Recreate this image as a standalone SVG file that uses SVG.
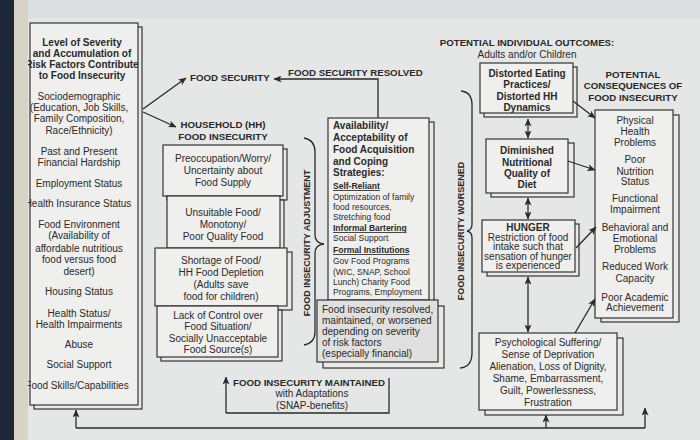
<svg xmlns="http://www.w3.org/2000/svg" width="700" height="440" viewBox="0 0 700 440">
<defs>
<marker id="ah" viewBox="0 0 8 7" markerWidth="8" markerHeight="7" refX="7.5" refY="3.5" orient="auto-start-reverse" markerUnits="userSpaceOnUse">
<path d="M0,0 L8,3.5 L0,7 L2,3.5 z" fill="#2a2a2a"/>
</marker>
<style>
text{font-family:"Liberation Sans","DejaVu Sans",Arial,sans-serif;fill:#2a2a2a}
.t{font-size:10px;text-anchor:middle}
.tl{font-size:10px}
.b{font-weight:bold}
.h{font-size:9.7px;font-weight:bold}
.s{font-size:8.5px}
.u{text-decoration:underline;font-weight:bold;font-size:8.5px}
.box{fill:#efefed;stroke:#333;stroke-width:1.2}
.shd{fill:#e9eae8;stroke:#333;stroke-width:1.2}
.ln{fill:none;stroke:#2a2a2a;stroke-width:1.3}
.ar{fill:none;stroke:#2a2a2a;stroke-width:1.3;marker-end:url(#ah)}
.ar2{fill:none;stroke:#2a2a2a;stroke-width:1.3;marker-end:url(#ah);marker-start:url(#ah)}
</style>
</defs>
<rect x="0" y="0" width="700" height="440" fill="#e5e7e7"/>
<rect x="0" y="0" width="700" height="18" fill="#dcdfdf"/>

<g id="risk-factors">
<rect class="shd" x="34" y="27" width="108" height="382"/>
<rect class="box" x="30" y="23" width="108" height="382"/>
<text class="t b" font-size="9.4px" x="82" y="45.5">Level of Severity</text>
<text class="t b" font-size="9.4px" x="82" y="56.5">and Accumulation of</text>
<text class="t b" font-size="9.4px" x="82" y="67.5">Risk Factors Contribute</text>
<text class="t b" font-size="9.4px" x="82" y="78.5">to Food Insecurity</text>
<text class="t" x="79" y="99.5">Sociodemographic</text>
<text class="t" x="79" y="110.5">(Education, Job Skills,</text>
<text class="t" x="79" y="121.5">Family Composition,</text>
<text class="t" x="79" y="133.5">Race/Ethnicity)</text>
<text class="t" x="79" y="154.5">Past and Present</text>
<text class="t" x="79" y="165.5">Financial Hardship</text>
<text class="t" x="79" y="186.5">Employment Status</text>
<text class="t" x="78" y="206.5">Health Insurance Status</text>
<text class="t" x="79" y="227.5">Food Environment</text>
<text class="t" x="79" y="238.5">(Availability of</text>
<text class="t" x="79" y="251.5">affordable nutritious</text>
<text class="t" x="79" y="262.5">food versus food</text>
<text class="t" x="79" y="274.5">desert)</text>
<text class="t" x="79" y="294.5">Housing Status</text>
<text class="t" x="79" y="316.5">Health Status/</text>
<text class="t" x="79" y="327.5">Health Impairments</text>
<text class="t" x="79" y="347.5">Abuse</text>
<text class="t" x="79" y="367.5">Social Support</text>
<text class="t" x="77" y="388.5">Food Skills/Capabilities</text>
</g>

<g id="food-security"><text class="h" x="190" y="80.5">FOOD SECURITY</text></g>
<g id="hh-food-insecurity">
<text class="h" x="223" y="127.5" text-anchor="middle">HOUSEHOLD (HH)</text>
<text class="h" x="223" y="139.5" text-anchor="middle">FOOD INSECURITY</text>
</g>

<g id="preoccupation">
<rect class="shd" x="167" y="149" width="120" height="51"/>
<rect class="box" x="163" y="145" width="120" height="51"/>
<text class="t" x="223" y="161.5">Preoccupation/Worry/</text>
<text class="t" x="223" y="173.5">Uncertainty about</text>
<text class="t" x="223" y="186">Food Supply</text>
</g>
<g id="unsuitable">
<rect class="shd" x="171" y="200" width="113" height="51"/>
<rect class="box" x="167" y="196" width="113" height="52"/>
<text class="t" x="223" y="215.5">Unsuitable Food/</text>
<text class="t" x="223" y="227.5">Monotony/</text>
<text class="t" x="223" y="239.5">Poor Quality Food</text>
</g>
<g id="shortage">
<rect class="shd" x="159" y="252" width="133" height="58"/>
<rect class="box" x="155" y="248" width="132" height="58"/>
<text class="t" x="221" y="263.5">Shortage of Food/</text>
<text class="t" x="221" y="275.5">HH Food Depletion</text>
<text class="t" x="221" y="287.5">(Adults save</text>
<text class="t" x="221" y="299.5">food for children)</text>
</g>
<g id="lack-of-control">
<rect class="shd" x="161" y="310" width="121" height="51"/>
<rect class="box" x="157" y="306" width="121" height="51"/>
<text class="t" x="218" y="318.5">Lack of Control over</text>
<text class="t" x="218" y="330">Food Situation/</text>
<text class="t" x="218" y="341.5">Socially Unacceptable</text>
<text class="t" x="218" y="353">Food Source(s)</text>
</g>

<g id="adjustment">
<text class="b" font-size="9px" text-anchor="middle" transform="translate(309.5,243) rotate(-90)">FOOD INSECURITY ADJUSTMENT</text>
<path class="ln" d="M304,138 Q315,140 315,152 L315,235 Q315,243 324,244 Q315,245 315,253 L315,332 Q315,343 304,345"/>
</g>

<g id="coping-strategies">
<rect class="shd" x="333" y="122" width="101" height="180"/>
<rect class="box" x="328" y="118" width="101" height="182"/>
<text class="tl b" font-size="9.5px" x="333" y="129">Availability/</text>
<text class="tl b" font-size="9.5px" x="333" y="141">Acceptability of</text>
<text class="tl b" font-size="9.5px" x="333" y="153">Food Acquisition</text>
<text class="tl b" font-size="9.5px" x="333" y="165">and Coping</text>
<text class="tl b" font-size="9.5px" x="333" y="176">Strategies:</text>
<text class="u" x="333" y="189">Self-Reliant</text>
<text class="s" x="333" y="200">Optimization of family</text>
<text class="s" x="333" y="210">food resources,</text>
<text class="s" x="333" y="220">Stretching food</text>
<text class="u" x="333" y="231">Informal Bartering</text>
<text class="s" x="333" y="241">Social Support</text>
<text class="u" x="333" y="253">Formal Institutions</text>
<text class="s" x="333" y="264">Gov Food Programs</text>
<text class="s" x="333" y="275">(WIC, SNAP, School</text>
<text class="s" x="333" y="285">Lunch) Charity Food</text>
<text class="s" x="333" y="295">Programs, Employment</text>
</g>

<g id="resolved-box">
<rect class="shd" x="323" y="306" width="121" height="62"/>
<rect class="box" x="317" y="300" width="121" height="62" style="fill:#dfe0df"/>
<text class="tl" font-size="9.5px" x="322" y="313">Food insecurity resolved,</text>
<text class="tl" font-size="9.5px" x="322" y="324">maintained, or worsened</text>
<text class="tl" font-size="9.5px" x="322" y="335">depending on severity</text>
<text class="tl" font-size="9.5px" x="322" y="346">of risk factors</text>
<text class="tl" font-size="9.5px" x="322" y="357">(especially financial)</text>
</g>

<g id="resolved-label"><text class="h" x="288" y="75.5">FOOD SECURITY RESOLVED</text></g>

<g id="maintained">
<text class="h" x="233" y="386">FOOD INSECURITY MAINTAINED</text>
<text class="t" x="312" y="397">with Adaptations</text>
<text class="t" x="312" y="409">(SNAP-benefits)</text>
</g>

<g id="worsened">
<text class="b" font-size="9px" text-anchor="middle" transform="translate(464,231) rotate(-90)">FOOD INSECURITY WORSENED</text>
<path class="ln" d="M461,91 Q472,92 472,105 L472,224 Q472,230 467,231 Q472,232 472,238 L472,353 Q472,367 460,368"/>
</g>

<g id="outcomes-header">
<text class="h" x="527" y="46" text-anchor="middle">POTENTIAL INDIVIDUAL OUTCOMES:</text>
<text class="t" x="527" y="57.5" font-size="9.5px">Adults and/or Children</text>
</g>

<g id="distorted">
<rect class="shd" x="484" y="67" width="93" height="50"/>
<rect class="box" x="480" y="63" width="93" height="50"/>
<text class="t b" font-size="9.5px" x="527" y="76.5">Distorted Eating</text>
<text class="t b" font-size="9.5px" x="527" y="87.5">Practices/</text>
<text class="t b" font-size="9.5px" x="527" y="99.5">Distorted HH</text>
<text class="t b" font-size="9.5px" x="527" y="110.5">Dynamics</text>
</g>
<g id="diminished">
<rect class="shd" x="491" y="143" width="83" height="54"/>
<rect class="box" x="486" y="139" width="82" height="54"/>
<text class="t b" font-size="9.5px" x="527" y="153.5">Diminished</text>
<text class="t b" font-size="9.5px" x="527" y="165.5">Nutritional</text>
<text class="t b" font-size="9.5px" x="527" y="176.5">Quality of</text>
<text class="t b" font-size="9.5px" x="527" y="187.5">Diet</text>
</g>
<g id="hunger">
<rect class="shd" x="487" y="224" width="92" height="52"/>
<rect class="box" x="482" y="220" width="93" height="52"/>
<text class="t b" font-size="9px" x="528" y="231">HUNGER</text>
<text class="t" font-size="8.2px" x="528" y="240.5">Restriction of food</text>
<text class="t" font-size="8.2px" x="528" y="250">intake such that</text>
<text class="t" font-size="8.2px" x="528" y="259.5">sensation of hunger</text>
<text class="t" font-size="8.2px" x="528" y="269">is experienced</text>
</g>
<g id="psychological">
<rect class="shd" x="485" y="338" width="138" height="77"/>
<rect class="box" x="479" y="333" width="138" height="77"/>
<text class="t" font-size="10.3px" x="548" y="345.5">Psychological Suffering/</text>
<text class="t" font-size="10.3px" x="548" y="357.5">Sense of Deprivation</text>
<text class="t" font-size="10.3px" x="548" y="370">Alienation, Loss of Dignity,</text>
<text class="t" font-size="10.3px" x="548" y="382">Shame, Embarrassment,</text>
<text class="t" font-size="10.3px" x="548" y="394">Guilt, Powerlessness,</text>
<text class="t" font-size="10.3px" x="548" y="406">Frustration</text>
</g>

<g id="consequences-header">
<text class="h" x="633" y="77.5" text-anchor="middle">POTENTIAL</text>
<text class="h" x="633" y="88.5" text-anchor="middle">CONSEQUENCES OF</text>
<text class="h" x="633" y="100.5" text-anchor="middle">FOOD INSECURITY</text>
</g>
<g id="consequences">
<rect class="shd" x="601" y="115" width="78" height="207"/>
<rect class="box" x="595" y="110" width="78" height="208"/>
<text class="t" font-size="9.6px" x="635" y="123.5">Physical</text>
<text class="t" font-size="9.6px" x="635" y="134.5">Health</text>
<text class="t" font-size="9.6px" x="635" y="145.5">Problems</text>
<text class="t" font-size="9.6px" x="635" y="162.5">Poor</text>
<text class="t" font-size="9.6px" x="635" y="174.5">Nutrition</text>
<text class="t" font-size="9.6px" x="635" y="184.5">Status</text>
<text class="t" font-size="9.6px" x="635" y="201.5">Functional</text>
<text class="t" font-size="9.6px" x="635" y="212.5">Impairment</text>
<text class="t" font-size="9.6px" x="635" y="230.5">Behavioral and</text>
<text class="t" font-size="9.6px" x="635" y="241.5">Emotional</text>
<text class="t" font-size="9.6px" x="635" y="252.5">Problems</text>
<text class="t" font-size="9.6px" x="635" y="269.5">Reduced Work</text>
<text class="t" font-size="9.6px" x="635" y="281.5">Capacity</text>
<text class="t" font-size="9.6px" x="635" y="300.5">Poor Academic</text>
<text class="t" font-size="9.6px" x="635" y="311">Achievement</text>
</g>

<g id="connectors">
<path class="ar" d="M143,109 L186,78"/>
<path class="ar" d="M143,112 L176,127"/>
<path class="ar" d="M378,118 L378,79 L274,79"/>
<path class="ar" d="M226,413 L226,377"/>
<path class="ln" d="M226,413 L389,413 L389,378"/>
<path class="ar2" d="M528,119 L528,138"/>
<path class="ar2" d="M528,198 L528,219"/>
<path class="ar2" d="M528,277 L528,332"/>
<path class="ar" d="M573,101 L595,118"/>
<path class="ar" d="M568,161 L595,170"/>
<path class="ar" d="M576,248 L596,227"/>
<path class="ar" d="M575,333 L595,299"/>
<path class="ln" d="M76,428 L645,428"/>
<path class="ar" d="M76,428 L76,410"/>
<path class="ar" d="M546,428 L546,415"/>
<path class="ar" d="M645,428 L645,408"/>
</g>

<rect x="14" y="0" width="14" height="440" fill="#d6d3c7"/>
<rect x="0" y="0" width="14" height="440" fill="#1e2737"/>
</svg>
